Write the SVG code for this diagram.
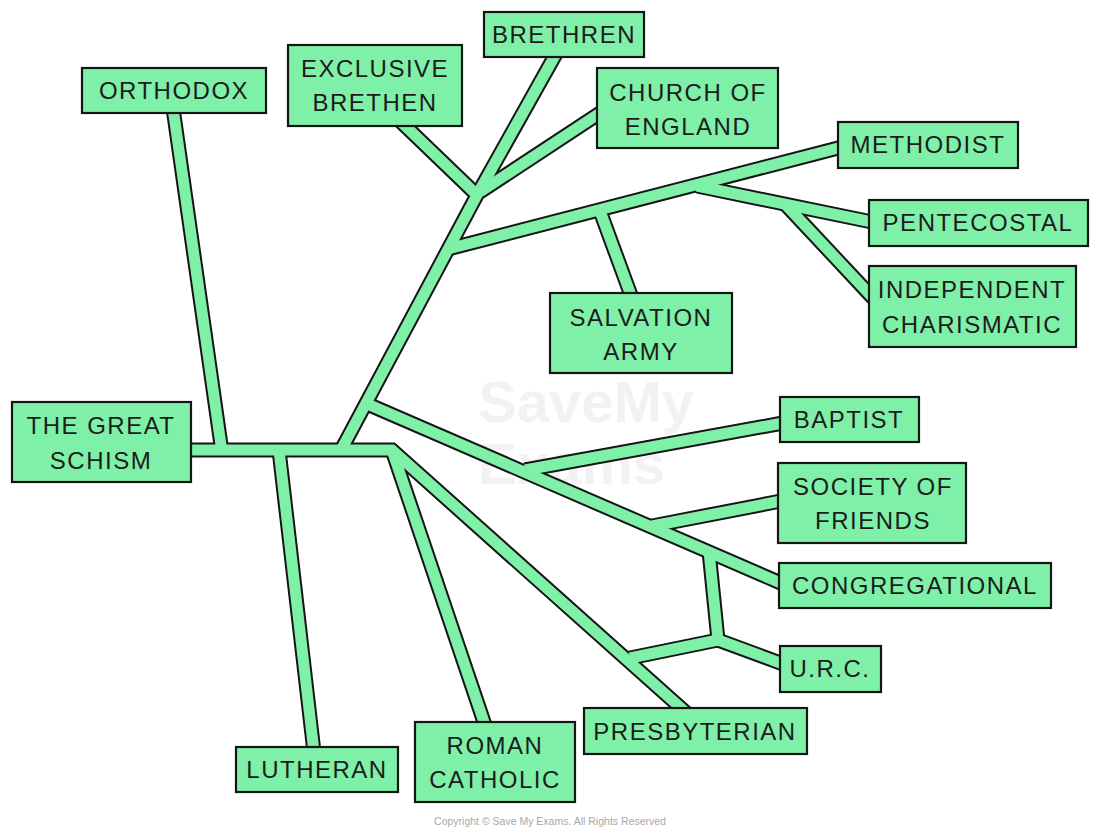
<svg xmlns="http://www.w3.org/2000/svg" width="1100" height="834" viewBox="0 0 1100 834">
<style>
.bo{fill:none;stroke:#151515;stroke-width:15;stroke-linecap:butt;stroke-linejoin:miter}
.bi{fill:none;stroke:#7ef0a8;stroke-width:11;stroke-linecap:butt;stroke-linejoin:miter}
.box{fill:#7ef0a8;stroke:#151515;stroke-width:2.2}
.t{font-family:"Liberation Sans",Arial,sans-serif;font-size:24px;letter-spacing:1.5px;fill:#1c1c1c;text-anchor:middle}
.wm{font-family:"Liberation Sans",Arial,sans-serif;font-weight:bold;font-size:58px;fill:#f2f2f4}
.cp{font-family:"Liberation Sans",Arial,sans-serif;font-size:10.5px;fill:#a8a8a8;text-anchor:middle}
</style>
<rect width="1100" height="834" fill="#ffffff"/>
<g id="watermark">
<text class="wm" x="478" y="422">SaveMy</text>
<text class="wm" x="478" y="484">Exams</text>
</g>
<g id="connectors">
<g id="outline">
<path class="bo" d="M173,108 L222,452"/>
<path class="bo" d="M185,450 L392,450 L690,716"/>
<path class="bo" d="M392,450 L486,728"/>
<path class="bo" d="M279,450 L314,752"/>
<path class="bo" d="M340,452 L477,195 L557,52"/>
<path class="bo" d="M398,119 L477,195"/>
<path class="bo" d="M603,111 L480,192"/>
<path class="bo" d="M448,249 L842,147"/>
<path class="bo" d="M600,211 L632,298"/>
<path class="bo" d="M697,186 L872,222"/>
<path class="bo" d="M785,204 L873,298"/>
<path class="bo" d="M365,403 L783,584"/>
<path class="bo" d="M525,470 L783,423"/>
<path class="bo" d="M652,526 L781,501"/>
<path class="bo" d="M709,551 L718,640 L783,664"/>
<path class="bo" d="M630,658 L718,640"/>
</g>
<g id="fill">
<path class="bi" d="M173,108 L222,452"/>
<path class="bi" d="M185,450 L392,450 L690,716"/>
<path class="bi" d="M392,450 L486,728"/>
<path class="bi" d="M279,450 L314,752"/>
<path class="bi" d="M340,452 L477,195 L557,52"/>
<path class="bi" d="M398,119 L477,195"/>
<path class="bi" d="M603,111 L480,192"/>
<path class="bi" d="M448,249 L842,147"/>
<path class="bi" d="M600,211 L632,298"/>
<path class="bi" d="M697,186 L872,222"/>
<path class="bi" d="M785,204 L873,298"/>
<path class="bi" d="M365,403 L783,584"/>
<path class="bi" d="M525,470 L783,423"/>
<path class="bi" d="M652,526 L781,501"/>
<path class="bi" d="M709,551 L718,640 L783,664"/>
<path class="bi" d="M630,658 L718,640"/>
</g>
</g>
<g id="great-schism"><rect class="box" x="12" y="402" width="179" height="80"/><text class="t" x="101" y="434">THE GREAT</text><text class="t" x="101" y="469">SCHISM</text></g>
<g id="orthodox"><rect class="box" x="82" y="68" width="184" height="45"/><text class="t" x="174" y="99">ORTHODOX</text></g>
<g id="exclusive-brethen"><rect class="box" x="288" y="45" width="174" height="81"/><text class="t" x="375" y="77">EXCLUSIVE</text><text class="t" x="375" y="111">BRETHEN</text></g>
<g id="brethren"><rect class="box" x="484" y="12" width="160" height="45"/><text class="t" x="564" y="43">BRETHREN</text></g>
<g id="church-of-england"><rect class="box" x="597" y="68" width="181" height="80"/><text class="t" x="688" y="101">CHURCH OF</text><text class="t" x="688" y="135">ENGLAND</text></g>
<g id="methodist"><rect class="box" x="838" y="122" width="180" height="46"/><text class="t" x="928" y="153">METHODIST</text></g>
<g id="pentecostal"><rect class="box" x="869" y="200" width="219" height="46"/><text class="t" x="978" y="231">PENTECOSTAL</text></g>
<g id="independent-charismatic"><rect class="box" x="869" y="266" width="207" height="81"/><text class="t" x="972" y="298">INDEPENDENT</text><text class="t" x="972" y="333">CHARISMATIC</text></g>
<g id="salvation-army"><rect class="box" x="550" y="293" width="182" height="80"/><text class="t" x="641" y="326">SALVATION</text><text class="t" x="641" y="360">ARMY</text></g>
<g id="baptist"><rect class="box" x="780" y="397" width="139" height="45"/><text class="t" x="849" y="428">BAPTIST</text></g>
<g id="society-of-friends"><rect class="box" x="778" y="463" width="188" height="80"/><text class="t" x="873" y="495">SOCIETY OF</text><text class="t" x="873" y="529">FRIENDS</text></g>
<g id="congregational"><rect class="box" x="779" y="563" width="272" height="45"/><text class="t" x="915" y="594">CONGREGATIONAL</text></g>
<g id="urc"><rect class="box" x="780" y="646" width="101" height="46"/><text class="t" x="830" y="677">U.R.C.</text></g>
<g id="presbyterian"><rect class="box" x="584" y="708" width="223" height="46"/><text class="t" x="695" y="740">PRESBYTERIAN</text></g>
<g id="roman-catholic"><rect class="box" x="415" y="722" width="160" height="80"/><text class="t" x="495" y="754">ROMAN</text><text class="t" x="495" y="788">CATHOLIC</text></g>
<g id="lutheran"><rect class="box" x="236" y="747" width="162" height="45"/><text class="t" x="317" y="778">LUTHERAN</text></g>
<text class="cp" x="550" y="825">Copyright © Save My Exams. All Rights Reserved</text>
</svg>
